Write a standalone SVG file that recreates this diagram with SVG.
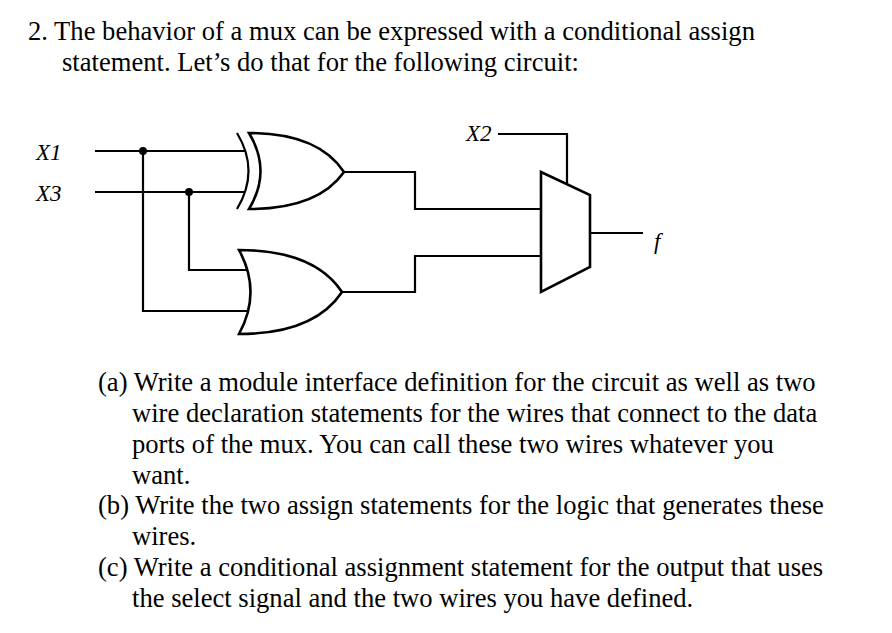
<svg xmlns="http://www.w3.org/2000/svg" width="892" height="633" viewBox="0 0 892 633">
<style>
text{font-family:"Liberation Serif",serif;font-size:26.6px;fill:#000}
.l{font-style:italic;font-size:23px}
.w{fill:none;stroke:#000;stroke-width:2.2}
.g{fill:#fff;stroke:#000;stroke-width:2.6}
</style>
<rect width="892" height="633" fill="#fff"/>
<text x="28" y="40">2.  The behavior of a mux can be expressed with a conditional assign</text>
<text x="62" y="71">statement. Let’s do that for the following circuit:</text>
<text class="l" x="36" y="160">X1</text>
<text class="l" x="36" y="201">X3</text>
<text class="l" x="466" y="141">X2</text>
<text class="l" x="654" y="249">f</text>
<g id="connectors">
<path class="w" d="M95 151H245M95 192H245M143 151V311H250M189 192V270H250"/>
<path class="w" d="M344 172H415V209H541M342 292H415V256H541M590 233H643M498 134H567V186"/>
<circle cx="143" cy="151" r="4"/><circle cx="189" cy="192" r="4"/>
</g>
<g id="xor"><path class="g" d="M249 133Q318 133 344 172Q318 209 249 209Q272 171 249 133Z"/><path class="w" stroke-width="2.6" d="M237 133Q260 171 237 209"/></g>
<g id="or"><path class="g" d="M239 250Q314 250 342 292Q314 334 239 334Q262 292 239 250Z"/></g>
<g id="mux"><path class="g" d="M541 172L590 195V267L541 292Z"/></g>
<text x="98" y="391">(a) Write a module interface definition for the circuit as well as two</text>
<text x="132" y="422">wire declaration statements for the wires that connect to the data</text>
<text x="132" y="453">ports of the mux. You can call these two wires whatever you</text>
<text x="132" y="484">want.</text>
<text x="98" y="514">(b) Write the two assign statements for the logic that generates these</text>
<text x="132" y="545">wires.</text>
<text x="98" y="576">(c) Write a conditional assignment statement for the output that uses</text>
<text x="132" y="607">the select signal and the two wires you have defined.</text>
</svg>
